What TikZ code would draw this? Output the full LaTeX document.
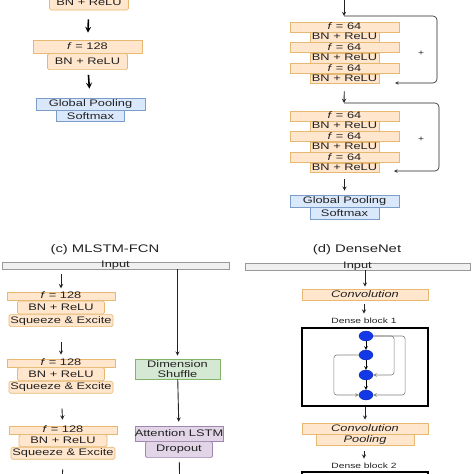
\documentclass[tikz,border=0pt]{standalone}
\usepackage{fontspec}
\setmainfont[FakeStretch=1.35]{Liberation Sans}
\usetikzlibrary{positioning,shapes.geometric,arrows}

\definecolor{orfill}{HTML}{FFE6CC}
\definecolor{ordraw}{HTML}{E6B872}
\definecolor{blfill}{HTML}{DAE8FC}
\definecolor{bldraw}{HTML}{7C9CC9}
\definecolor{grfill}{HTML}{D5E8D4}
\definecolor{grdraw}{HTML}{82B366}
\definecolor{pufill}{HTML}{E1D5E7}
\definecolor{pudraw}{HTML}{9F86B0}
\definecolor{infill}{HTML}{F0F0F0}
\definecolor{indraw}{HTML}{999999}
\definecolor{dotblue}{HTML}{1238E8}
\definecolor{ink}{HTML}{222222}

\newcommand{\lbl}{\fontsize{9.5}{10}\selectfont}
\newcommand{\ttl}{\fontsize{11}{11}\selectfont}
\newcommand{\sml}{\fontsize{7.6}{8}\selectfont}

\tikzset{
  layer/.style={draw=ordraw, fill=orfill, line width=0.6pt, inner sep=0pt, font=\lbl, text=ink},
  outbox/.style={draw=bldraw, fill=blfill, line width=0.6pt, inner sep=0pt, font=\lbl, text=ink},
  shufbox/.style={draw=grdraw, fill=grfill, line width=0.6pt, inner sep=0pt, font=\lbl, text=ink, align=center},
  lstmbox/.style={draw=pudraw, fill=pufill, line width=0.6pt, inner sep=0pt, font=\lbl, text=ink},
  inbar/.style={draw=indraw, fill=infill, line width=0.6pt, inner sep=0pt, font=\lbl, text=ink, text height=5.2pt, text depth=1.8pt},
  slim/.style={text height=#1, text depth=1.8pt},
  dense/.style={draw=black, line width=2.2pt, inner sep=0pt},
  unit/.style={ellipse, fill=dotblue, draw=dotblue!70!black, line width=0.3pt, inner sep=0pt, minimum width=14pt, minimum height=10pt},
  arr/.style={->, line width=0.9pt, draw=ink},
  bigarr/.style={->, line width=1.6pt, draw=black},
  skip/.style={->, line width=0.6pt, draw=gray, rounded corners=3pt},
}

\begin{document}
\begin{tikzpicture}[x=1pt,y=-1pt,>=stealth]
\useasboundingbox (0,0) rectangle (474,474);
\clip (0,0) rectangle (474,474);

% (a) FCN, lower part
\node[layer, minimum width=79pt, minimum height=16pt, rounded corners=1.5pt] (bnA0) at (89,2) {BN + ReLU};
\node[layer, minimum width=109pt, minimum height=13pt] (fA) at (87.5,46.5) {\textit{f} = 128};
\node[layer, below=0pt of fA, minimum width=80pt, minimum height=16pt, rounded corners=1.5pt] (bnA) {BN + ReLU};
\node[outbox, minimum width=109pt, minimum height=12pt] (gpA) at (90.5,104) {Global Pooling};
\node[outbox, below=0pt of gpA, minimum width=68pt, minimum height=11pt] (smA) {Softmax};
\draw[bigarr, shorten <=9pt, shorten >=7pt] (bnA0) -- (fA);
\draw[bigarr, shorten <=5pt, shorten >=9pt] (bnA) -- (gpA);

% (b) ResNet, two residual blocks
\coordinate (topB) at (344,-4);
\coordinate (sB1) at (344,16);
\node[layer, slim=7pt, minimum width=109pt, minimum height=10pt] (fB1) at (344.5,27) {\textit{f} = 64};
\node[layer, slim=7pt, below=0pt of fB1, minimum width=69pt, minimum height=9.5pt] (bnB1) {BN + ReLU};
\node[layer, slim=7pt, below=0pt of bnB1, minimum width=109pt, minimum height=10pt] (fB2) {\textit{f} = 64};
\node[layer, slim=7pt, below=0pt of fB2, minimum width=69pt, minimum height=9.5pt] (bnB2) {BN + ReLU};
\node[layer, slim=7pt, below=0pt of bnB2, minimum width=109pt, minimum height=10pt] (fB3) {\textit{f} = 64};
\node[layer, slim=7pt, below=0pt of fB3, minimum width=69pt, minimum height=9.5pt] (bnB3) {BN + ReLU};
\coordinate (jB1) at (395,83);
\node[font=\sml, text=ink] (plB1) at (421,53) {+};
\draw[arr] (topB) -- (sB1);
\draw[skip, draw=ink, rounded corners=4pt] (sB1) -- ++(93,0) |- (jB1);

\coordinate (sB2) at (344,103);
\node[layer, slim=7pt, minimum width=109pt, minimum height=10pt] (fB4) at (344.5,116) {\textit{f} = 64};
\node[layer, slim=7pt, below=0pt of fB4, minimum width=69pt, minimum height=9.5pt] (bnB4) {BN + ReLU};
\node[layer, slim=7pt, below=0pt of bnB4, minimum width=109pt, minimum height=10pt] (fB5) {\textit{f} = 64};
\node[layer, slim=7pt, below=0pt of fB5, minimum width=69pt, minimum height=9.5pt] (bnB5) {BN + ReLU};
\node[layer, slim=7pt, below=0pt of bnB5, minimum width=109pt, minimum height=10pt] (fB6) {\textit{f} = 64};
\node[layer, slim=7pt, below=0pt of fB6, minimum width=69pt, minimum height=9.5pt] (bnB6) {BN + ReLU};
\coordinate (jB2) at (394,171);
\node[font=\sml, text=ink] (plB2) at (421,139) {+};
\draw[arr, shorten <=7.5pt] (bnB3.south) -- (sB2);
\draw[skip, draw=ink, rounded corners=4pt] (sB2) -- ++(95,0) |- (jB2);

\node[outbox, minimum width=109pt, minimum height=12pt] (gpB) at (344.5,201) {Global Pooling};
\node[outbox, below=0pt of gpB, minimum width=69pt, minimum height=12pt] (smB) {Softmax};
\draw[arr, shorten <=6.5pt, shorten >=4pt] (bnB6) -- (gpB);

% (c) MLSTM-FCN
\node[font=\ttl, text=ink] (tC) at (105,250) {(c) MLSTM-FCN};
\node[inbar, minimum width=227pt] (inC) at (115.5,265.5) {Input};

\node[layer, slim=6pt, minimum width=108pt, minimum height=7.5pt] (fC1) at (61,296.5) {\textit{f} = 128};
\node[layer, below=0pt of fC1, minimum width=87pt, minimum height=13pt, rounded corners=1.5pt] (bnC1) {BN + ReLU};
\node[layer, below=0pt of bnC1, minimum width=104pt, minimum height=12pt, rounded corners=1.5pt] (seC1) {Squeeze \& Excite};
\node[layer, slim=6pt, minimum width=108pt, minimum height=8pt] (fC2) at (61,363) {\textit{f} = 128};
\node[layer, below=0pt of fC2, minimum width=87pt, minimum height=13pt, rounded corners=1.5pt] (bnC2) {BN + ReLU};
\node[layer, below=0pt of bnC2, minimum width=104pt, minimum height=12pt, rounded corners=1.5pt] (seC2) {Squeeze \& Excite};
\node[layer, slim=6pt, minimum width=108pt, minimum height=8pt] (fC3) at (63,430) {\textit{f} = 128};
\node[layer, below=0pt of fC3, minimum width=88pt, minimum height=12pt, rounded corners=1.5pt] (bnC3) {BN + ReLU};
\node[layer, below=0pt of bnC3, minimum width=104pt, minimum height=12pt, rounded corners=1.5pt] (seC3) {Squeeze \& Excite};
\coordinate (outC1) at (62,495);

\node[shufbox, minimum width=85pt, minimum height=20pt] (dsC) at (177.5,369) {Dimension\\Shuffle};
\node[lstmbox, minimum width=88pt, minimum height=15pt] (atC) at (179,433.5) {Attention LSTM};
\node[lstmbox, below=0pt of atC, minimum width=67pt, minimum height=16pt, rounded corners=1.5pt] (doC) {Dropout};
\coordinate (outC2) at (180,495);

\draw[arr, shorten <=5pt, shorten >=4pt] (inC.south -| fC1.north) -- (fC1);
\draw[arr, shorten <=15pt, shorten >=4pt] (seC1) -- (fC2);
\draw[arr, shorten <=15pt, shorten >=6pt] (seC2) -- (fC3);
\draw[arr, shorten <=10pt] (seC3) -- (outC1);
\draw[arr, shorten >=3pt] (inC.south -| dsC.north) -- (dsC);
\draw[arr, shorten >=4pt] (dsC) -- (atC);
\draw[arr, shorten <=4pt] (doC) -- (outC2);

% (d) DenseNet
\node[font=\ttl, text=ink] (tD) at (357,250) {(d) DenseNet};
\node[inbar, minimum width=225pt] (inD) at (357.5,266.5) {Input};
\node[layer, minimum width=126pt, minimum height=11pt, font=\lbl\itshape] (cvD1) at (365,294.5) {Convolution};
\node[font=\sml, text=ink] (lbD1) at (364,321) {Dense block 1};
\node[dense, minimum width=126pt, minimum height=78pt] (blkD1) at (365,367) {};
\node[unit] (n1) at (366,336) {};
\node[unit] (n2) at (366,355) {};
\node[unit] (n3) at (366,375) {};
\node[unit] (n4) at (366,395) {};
\draw[->, line width=0.6pt] (n1) -- (n2);
\draw[->, line width=0.6pt] (n2) -- (n3);
\draw[->, line width=0.6pt] (n3) -- (n4);
\draw[skip] (n1.east) -- ++(21,0) |- (n3.east);
\draw[skip] (n1.east) -- ++(32,0) |- (n4.east);
\draw[skip] (n2.west) -- ++(-25,0) |- (n4.west);
\node[layer, minimum width=126pt, minimum height=11pt, font=\lbl\itshape] (cvD2) at (365,428.5) {Convolution};
\node[layer, below=0pt of cvD2, minimum width=98pt, minimum height=11pt, font=\lbl\itshape] (poD) {Pooling};
\node[font=\sml, text=ink] (lbD2) at (364,466) {Dense block 2};
\node[dense, minimum width=126pt, minimum height=40pt] (blkD2) at (365,492) {};

\draw[arr, shorten >=2pt] (inD.south -| cvD1.north) -- (cvD1);
\draw[arr, shorten <=4pt, shorten >=1pt] (cvD1.south -| lbD1.north) -- (lbD1);
\draw[arr, shorten >=3pt] (blkD1.south -| cvD2.north) -- (cvD2);
\draw[arr, shorten <=5pt, shorten >=1pt] (poD.south -| lbD2.north) -- (lbD2);
\end{tikzpicture}
\end{document}
